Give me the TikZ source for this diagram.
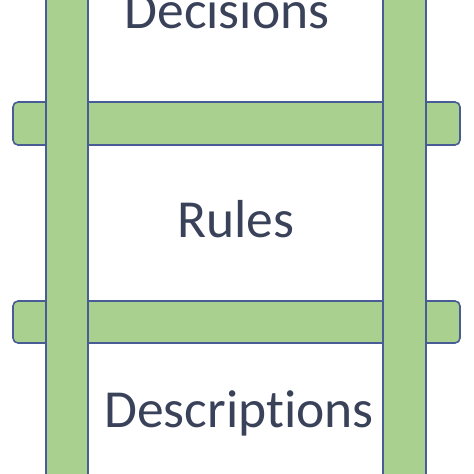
\documentclass[tikz,border=0pt]{standalone}
\usepackage{fontspec}
\setmainfont[Ligatures=NoCommon]{Carlito}
\definecolor{railgreen}{RGB}{169,208,142}
\definecolor{railedge}{RGB}{72,92,150}
\definecolor{wordgray}{RGB}{58,66,90}
\tikzset{
  rail/.style={fill=railgreen, draw=railedge, line width=1.6pt},
  rung/.style={rail, rounded corners=5pt},
  word/.style={text=wordgray, font=\fontsize{53.5}{60}\selectfont, anchor=base}
}

\begin{document}
\begin{tikzpicture}[x=1pt,y=-1pt]
\useasboundingbox (0,0) rectangle (474,474);
\fill[white] (0,0) rectangle (474,474);
\draw[rung] (13,102) rectangle (460,145);
\draw[rung] (13,301) rectangle (460,343); % rungs
\draw[rail] (46,-5) rectangle (88,480);
\draw[rail] (383,-5) rectangle (426,480); % side rails
\node[word] (decisions) at (227,28) {Decisions};
\node[word] (rules) at (236,237) {Rules};
\node[word] (descriptions) at (239,427) {Descriptions};
\end{tikzpicture}
\end{document}
